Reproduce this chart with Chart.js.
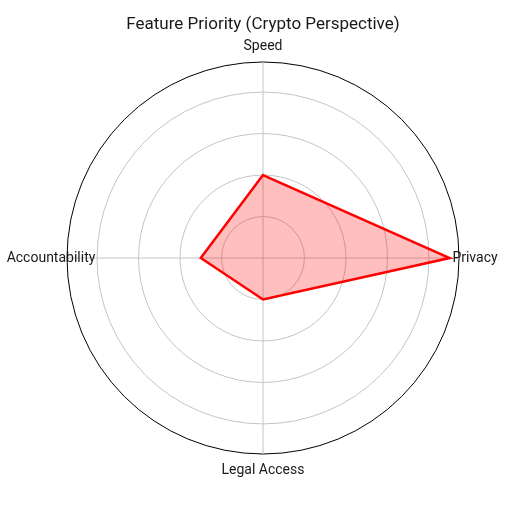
<!DOCTYPE html>
<html>
<head>
<meta charset="utf-8">
<title>Feature Priority (Crypto Perspective)</title>
<script src="https://cdn.jsdelivr.net/npm/chart.js@4"></script>
<style>
  html, body { margin: 0; padding: 0; background: #fff; }
  #wrap { width: 512px; height: 512px; }
</style>
</head>
<body>
<div id="wrap"><canvas id="radarChart" width="512" height="512"></canvas></div>
<script>
// Chart data
const features = ['Speed', 'Privacy', 'Legal Access', 'Accountability'];
const priorityScores = [4, 9, 2, 3];
const gridSteps = 2;
const scaleMax = 9.45;

const FONT = 'Roboto, "Open Sans", sans-serif';

// Labels are centred just outside the outer ring, matplotlib style
const centeredLabels = {
    id: 'centeredLabels',
    afterDraw(chart) {
        const scale = chart.scales.r;
        const ctx = chart.ctx;
        ctx.save();
        ctx.font = '14px ' + FONT;
        ctx.fillStyle = '#1a1a1a';
        ctx.textAlign = 'center';
        ctx.textBaseline = 'middle';
        features.forEach((name, i) => {
            const pos = scale.getPointPosition(i, scale.drawingArea + 16);
            ctx.fillText(name, pos.x, pos.y);
        });
        ctx.restore();
    }
};

const ctx = document.getElementById('radarChart').getContext('2d');
const radarChart = new Chart(ctx, {
    type: 'radar',
    data: {
        labels: features,
        datasets: [{
            label: 'Crypto Perspective',
            data: priorityScores,
            backgroundColor: 'rgba(255, 0, 0, 0.25)',
            borderColor: '#ff0000',
            borderWidth: 2.5,
            pointRadius: 0,
            pointHoverRadius: 0,
            tension: 0
        }]
    },
    options: {
        responsive: false,
        animation: false,
        layout: {
            padding: { left: 66, right: 52, top: 0, bottom: 57 }
        },
        plugins: {
            legend: { display: false },
            tooltip: { enabled: false },
            title: {
                display: true,
                text: 'Feature Priority (Crypto Perspective)',
                color: '#1a1a1a',
                font: { family: FONT, size: 17, weight: 'normal' },
                padding: { top: 15, bottom: 26 }
            }
        },
        scales: {
            r: {
                min: 0,
                max: scaleMax,
                ticks: { stepSize: gridSteps, display: false },
                grid: {
                    circular: true,
                    lineWidth: 1,
                    color: c => (c.tick && c.tick.value === scaleMax) ? '#000000' : '#c4c4c4'
                },
                angleLines: { color: '#c4c4c4', lineWidth: 1 },
                pointLabels: { display: false }
            }
        }
    },
    plugins: [centeredLabels]
});
</script>
</body>
</html>
